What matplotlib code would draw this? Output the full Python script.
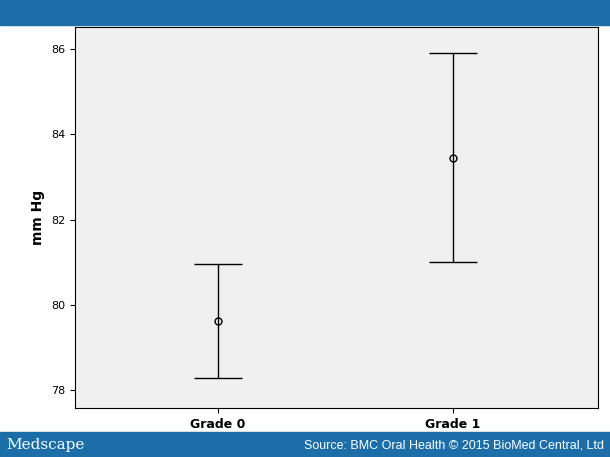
import matplotlib
matplotlib.use("Agg")
import matplotlib.pyplot as plt
from matplotlib.patches import Rectangle

categories = ["Grade 0", "Grade 1"]
means = [79.62, 83.45]
lower = [78.28, 81.0]
upper = [80.96, 85.91]
yticks = [78, 80, 82, 84, 86]

W, H = 610, 457
fig = plt.figure(figsize=(W/100, H/100), dpi=100)
blue = "#1b6ea8"
fig.add_artist(Rectangle((0, 1-25/H), 1, 25/H, transform=fig.transFigure, color=blue))
fig.add_artist(Rectangle((0, 0), 1, 25/H, transform=fig.transFigure, color=blue))
fig.text(6/W, 12/H, "Medscape", color="white", family="DejaVu Serif", fontsize=11, va="center")
fig.text(604/W, 12/H, "Source: BMC Oral Health © 2015 BioMed Central, Ltd",
         color="white", fontsize=9, ha="right", va="center", family="Liberation Sans")

ax = fig.add_axes([75/W, 1-408/H, 523/W, 381/H])
ax.set_facecolor("#f0f0f0")
x = list(range(len(categories)))
yerr = [[m-l for m, l in zip(means, lower)], [u-m for m, u in zip(means, upper)]]
ax.errorbar(x, means, yerr=yerr, fmt="o", mfc="none", mec="black", ms=5,
            ecolor="black", elinewidth=1, capsize=17, capthick=1, color="black")
ax.set_xlim(-0.61, 1.62)
ax.set_ylim(77.58, 86.52)
ax.set_yticks(yticks)
ax.set_yticklabels([str(t) for t in yticks], fontsize=8)
ax.set_xticks(x)
ax.set_xticklabels(categories, fontsize=9, fontweight="bold")
ax.set_ylabel("mm Hg", fontsize=10, fontweight="bold")
for s in ax.spines.values():
    s.set_color("black"); s.set_linewidth(0.8)
fig.savefig("out.png", dpi=100)
